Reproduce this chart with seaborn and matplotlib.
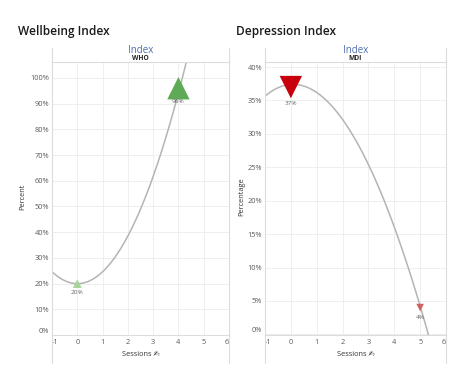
import matplotlib
matplotlib.use("Agg")
import matplotlib.pyplot as plt
import seaborn as sns
import numpy as np
from matplotlib.lines import Line2D

# ---------------- data ----------------
wb_sessions = [0, 4]
wb_values = [20, 96]
wb_colors = ["#a6d49c", "#5fab55"]

dep_sessions = [0, 5]
dep_values = [37, 4]
dep_colors = ["#c8000e", "#d06262"]

# trend-line readings (percent)
wb_trend_x = [-1, 0, 1, 2, 2.5, 3, 3.5, 4, 4.3]
wb_trend_y = [24.5, 20, 25, 38.5, 49, 61, 77, 94, 106]
dep_trend_x = [-1, 0, 0.5, 1.5, 2.1, 2.75, 3.4, 4.1, 5, 5.33]
dep_trend_y = [35.9, 37.0, 36.8, 34.8, 32.0, 27.5, 22.0, 14.3, 4.3, 0]

x_ticks = [-1, 0, 1, 2, 3, 4, 5, 6]
wb_yticks = [0, 10, 20, 30, 40, 50, 60, 70, 80, 90, 100]
dep_yticks = [0, 5, 10, 15, 20, 25, 30, 35, 40]

sns.set_style("white")
plt.rcParams["font.family"] = ["Open Sans", "DejaVu Sans"]

W, H = 474, 389
fig = plt.figure(figsize=(W / 100, H / 100), dpi=100)

def fx(px):
    return px / W

def fy(py):
    return 1 - py / H

GRID = "#efefef"
BORDER = "#dcdcdc"
TICKC = "#5a5a5a"

def make_panel(left, right, title, header, ylabel, yticks, ylim,
               tx, ty, order, sx, sv, colors, sizes, marker, label_off,
               ylabel_x):
    ax = fig.add_axes([fx(left), fy(335), fx(right - left), (335 - 62) / H])
    ax.set_xlim(-1, 6)
    ax.set_ylim(*ylim)
    # grid
    for xv in x_ticks:
        ax.axvline(xv, color=GRID, lw=0.7, zorder=0)
    for yv in yticks:
        ax.axhline(yv, color=GRID, lw=0.7, zorder=0)
    # trend line
    sns.regplot(x=tx, y=ty, order=order, ci=None, scatter=False,
                truncate=False, ax=ax,
                line_kws=dict(color="#b4b4b4", lw=1.1, zorder=2))
    ax.set_xlim(-1, 6)
    ax.set_ylim(*ylim)
    # marks
    keys = [str(v) for v in sv]
    sns.scatterplot(x=sx, y=sv, hue=keys,
                    palette=dict(zip(keys, colors)),
                    size=keys,
                    sizes=dict(zip(keys, sizes)),
                    marker=marker, linewidth=0, legend=False, ax=ax, zorder=3)
    for x, v, off in zip(sx, sv, label_off):
        ax.annotate(f"{v}%", (x, v), xytext=(0, -off), textcoords="offset points",
                    ha="center", va="center", fontsize=4.6, color="#666666", zorder=4)
    # axes styling
    for s in ax.spines.values():
        s.set_color(BORDER)
        s.set_linewidth(0.8)
    ax.set_xticks(x_ticks)
    ax.set_xticklabels([str(v) for v in x_ticks])
    ax.set_yticks(yticks)
    ax.set_yticklabels([f"{v}%" for v in yticks])
    ax.tick_params(axis="both", length=0, labelsize=5.3, labelcolor=TICKC)
    ax.tick_params(axis="y", pad=2.0)
    ax.tick_params(axis="x", pad=3.0)
    xl = ax.get_xticklabels()
    xl[0].set_ha("left")
    xl[-1].set_ha("right")
    ax.get_yticklabels()[0].set_va("bottom")
    ax.set_xlabel("Sessions \u270d", fontsize=5.3, color="#333333", labelpad=3.2)
    ax.set_ylabel("")
    fig.text(fx(ylabel_x), fy(197), ylabel, rotation=90, ha="center", va="center",
             fontsize=5.3, color="#333333")
    # panel borders extending above and below
    for px in (left, right):
        fig.add_artist(Line2D([fx(px), fx(px)], [fy(48), fy(62)], color=BORDER, lw=0.8))
        fig.add_artist(Line2D([fx(px), fx(px)], [fy(335), fy(363)], color=BORDER, lw=0.8))
    cx = (left + right) / 2
    fig.text(fx(cx), fy(50.5), "Index", ha="center", va="center", fontsize=7,
             color="#4e6fb0")
    fig.text(fx(cx), fy(58), header, ha="center", va="center", fontsize=4.8,
             color="#222222", fontweight="bold")
    return ax

make_panel(52, 229, "Wellbeing Index", "WHO", "Percent", wb_yticks, (0, 106.2),
           wb_trend_x, wb_trend_y, 2, wb_sessions, wb_values, wb_colors,
           [40, 260], "^", [6.5, 9.5], 23)
make_panel(265, 446, "Depression Index", "MDI", "Percentage", dep_yticks, (-0.1, 40.75),
           dep_trend_x, dep_trend_y, 3, dep_sessions, dep_values, dep_colors,
           [260, 30], "v", [11.5, 7], 242)

fig.text(fx(18), fy(32), "Wellbeing Index", ha="left", va="center", fontsize=8.6,
         color="#1a1a1a", fontweight="semibold")
fig.text(fx(236), fy(32), "Depression Index", ha="left", va="center", fontsize=8.6,
         color="#1a1a1a", fontweight="semibold")

fig.savefig("out.png", dpi=100)
